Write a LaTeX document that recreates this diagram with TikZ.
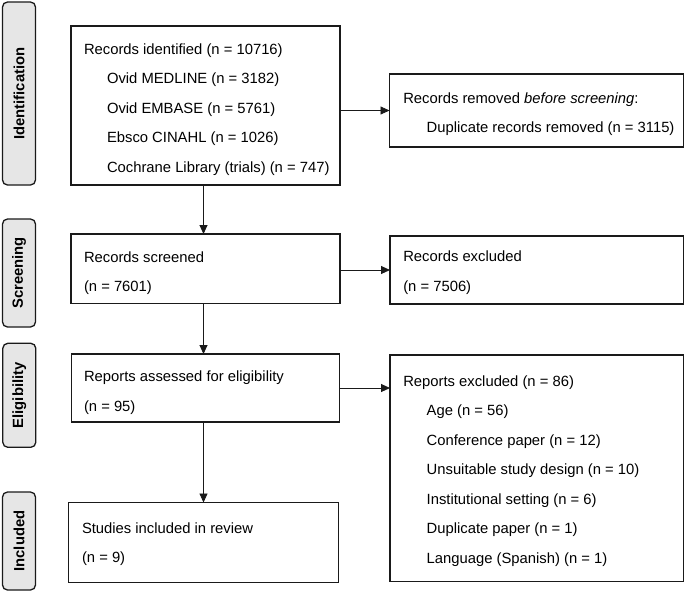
\documentclass[tikz,border=0pt]{standalone}
\usepackage{fontspec}
\setmainfont{Liberation Sans}
\usetikzlibrary{arrows.meta}
\definecolor{boxline}{HTML}{1A1A1A}
\definecolor{sidefill}{HTML}{E6E6E6}
\begin{document}
\begin{tikzpicture}[x=1pt,y=-1pt,
  box/.style={draw=boxline, line width=1.3pt, rectangle, anchor=north west, inner sep=0pt, outer sep=0pt},
  txt/.style={anchor=base west, inner sep=0pt, outer sep=0pt, font=\fontsize{14.8}{17}\selectfont},
  side/.style={draw=boxline, fill=sidefill, line width=1.3pt, rounded corners=5pt, rotate=90, inner sep=0pt,
    minimum height=33pt, font=\fontsize{14.8}{17}\selectfont\bfseries},
  arr/.style={line width=0.9pt, draw=boxline, -{Triangle[length=9pt,width=8pt]}}]
\useasboundingbox (0,0) rectangle (685,592);

% phase labels
\node[side, minimum width=183pt] (sid) at (19,93.5) {Identification};
\node[side, minimum width=108pt] (ssc) at (19,273) {Screening};
\node[side, minimum width=104pt] (sel) at (19.3,395.3) {Eligibility};
\node[side, minimum width=98pt] (sin) at (19,541) {Included};

% boxes
\node[box, minimum width=269pt, minimum height=159pt] (ident) at (71,26) {};
\node[box, minimum width=294pt, minimum height=73pt] (removed) at (389.5,74) {};
\node[box, minimum width=269pt, minimum height=69.5pt] (screened) at (71,234) {};
\node[box, minimum width=293.5pt, minimum height=68pt] (recexcl) at (390,236) {};
\node[box, minimum width=268pt, minimum height=68pt] (elig) at (71.5,354) {};
\node[box, minimum width=293.5pt, minimum height=226.5pt] (repexcl) at (390,355) {};
\node[box, minimum width=270pt, minimum height=80pt] (incl) at (68.5,502.5) {};

% texts
\node[txt] (t1) at (84,54) {Records identified (n = 10716)};
\node[txt] (t2) at (107,83.5) {Ovid MEDLINE (n = 3182)};
\node[txt] (t3) at (107,113) {Ovid EMBASE (n = 5761)};
\node[txt] (t4) at (107,142.5) {Ebsco CINAHL (n = 1026)};
\node[txt] (t5) at (107,172) {Cochrane Library (trials) (n = 747)};

\node[txt] (r1) at (403.3,103.3) {Records removed \textit{before screening}:};
\node[txt] (r2) at (426.7,132.7) {Duplicate records removed (n = 3115)};

\node[txt] (s1) at (84,262) {Records screened};
\node[txt] (s2) at (84,291.5) {(n = 7601)};

\node[txt] (x1) at (403.3,261.7) {Records excluded};
\node[txt] (x2) at (403.3,291.5) {(n = 7506)};

\node[txt] (e1) at (84,381.5) {Reports assessed for eligibility};
\node[txt] (e2) at (84,411) {(n = 95)};

\node[txt] (p1) at (403.3,386) {Reports excluded (n = 86)};
\node[txt] (p2) at (426.7,415.5) {Age (n = 56)};
\node[txt] (p3) at (426.7,445) {Conference paper (n = 12)};
\node[txt] (p4) at (426.7,474.5) {Unsuitable study design (n = 10)};
\node[txt] (p5) at (426.7,504) {Institutional setting (n = 6)};
\node[txt] (p6) at (426.7,533.5) {Duplicate paper (n = 1)};
\node[txt] (p7) at (426.7,563) {Language (Spanish) (n = 1)};

\node[txt] (i1) at (82,533.3) {Studies included in review};
\node[txt] (i2) at (82,562.7) {(n = 9)};

% connectors
\coordinate (col) at (203.5,0);
\draw[arr] (ident.south -| col) -- (screened.north -| col);
\draw[arr] (screened.south -| col) -- (elig.north -| col);
\draw[arr] (elig.south -| col) -- (incl.north -| col);
\draw[arr] (ident.east |- removed.west) -- (removed.west);
\draw[arr] (screened.east |- recexcl.west) -- (recexcl.west);
\draw[arr] (elig.east) -- (repexcl.west |- elig.east);
\end{tikzpicture}
\end{document}
